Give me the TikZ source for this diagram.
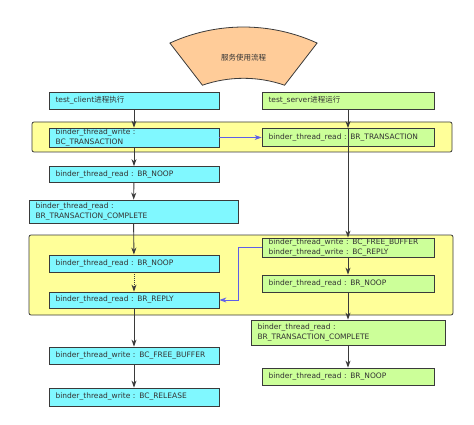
\documentclass[tikz,border=0pt]{standalone}
\usepackage{fontspec}
\setmainfont{DejaVu Sans}
\newfontfamily\cjk{Noto Sans CJK SC}
\usetikzlibrary{arrows.meta}
\definecolor{cyanf}{HTML}{80F8FF}
\definecolor{greenf}{HTML}{CCFF99}
\definecolor{yellowf}{HTML}{FFFF99}
\definecolor{peach}{HTML}{FFCC99}
\definecolor{bord}{HTML}{3A3A3A}
\definecolor{txt}{HTML}{333333}
\definecolor{bluel}{HTML}{5F5FE8}
\tikzset{
  bx/.style={draw=bord, line width=0.8pt, align=left, inner xsep=6.5pt, inner ysep=0pt,
    anchor=center, font=\fontsize{7.5}{9.5}\selectfont, text=txt},
  cbox/.style={bx, fill=cyanf},
  gbox/.style={bx, fill=greenf},
  ybox/.style={draw=bord, line width=0.8pt, fill=yellowf, rounded corners=2pt},
  arr/.style={draw=bord, line width=0.9pt, -{Stealth[length=7pt,width=5pt]}},
  barr/.style={draw=bluel, line width=0.9pt, -{Stealth[length=7pt,width=5pt]}},
}
\begin{document}
\begin{tikzpicture}[x=1pt,y=-1pt]
\useasboundingbox (0,0) rectangle (474,425);
% title shape
\draw[fill=peach, draw=bord, line width=0.8pt]
  ([shift={(243.5pt,-203.8pt)}]114.6:176.8pt) arc[start angle=114.6, end angle=65.4, radius=176.8pt]
  -- ([shift={(243.5pt,-203.8pt)}]70.9:125.5pt) arc[start angle=70.9, end angle=109.1, radius=125.5pt]
  -- cycle;
\node[font=\cjk\fontsize{7.5}{9}\selectfont, text=txt] (title) at (243.5,58) {服务使用流程};
% yellow groups
\node[ybox, minimum width=420pt, minimum height=30pt, inner sep=0pt] (y1) at (242,137) {};
\node[ybox, minimum width=424pt, minimum height=80pt, inner sep=0pt] (y2) at (241,275) {};
% left column
\node[cbox, text width=157pt, minimum height=17pt] (c1) at (134,100.5) {test\_client{\cjk 进程执行}};
\node[cbox, text width=157pt, minimum height=19pt] (c2) at (134,137.5) {binder\_thread\_write :\\BC\_TRANSACTION};
\node[cbox, text width=157pt, minimum height=16pt] (c3) at (134,174.5) {binder\_thread\_read : BR\_NOOP};
\node[cbox, text width=196pt, minimum height=23pt] (c4) at (133.5,211.5) {binder\_thread\_read :\\BR\_TRANSACTION\_COMPLETE};
\node[cbox, text width=157pt, minimum height=17pt] (c5) at (134,263.5) {binder\_thread\_read : BR\_NOOP};
\node[cbox, text width=157pt, minimum height=16pt] (c6) at (134,300) {binder\_thread\_read : BR\_REPLY};
\node[cbox, text width=157pt, minimum height=17pt] (c7) at (134,355.5) {binder\_thread\_write : BC\_FREE\_BUFFER};
\node[cbox, text width=157pt, minimum height=18pt] (c8) at (134,397) {binder\_thread\_write : BC\_RELEASE};
% right column
\node[gbox, text width=159pt, minimum height=17pt] (s1) at (348,100.5) {test\_server{\cjk 进程运行}};
\node[gbox, text width=159pt, minimum height=18pt] (s2) at (348,137.5) {binder\_thread\_read : BR\_TRANSACTION};
\node[gbox, text width=159pt, minimum height=19pt] (s3) at (348,247.5) {binder\_thread\_write : BC\_FREE\_BUFFER\\binder\_thread\_write : BC\_REPLY};
\node[gbox, text width=159pt, minimum height=17pt] (s4) at (348,283.5) {binder\_thread\_read : BR\_NOOP};
\node[gbox, text width=181pt, minimum height=25pt] (s5) at (348,332.5) {binder\_thread\_read :\\BR\_TRANSACTION\_COMPLETE};
\node[gbox, text width=159pt, minimum height=17pt] (s6) at (348,376.5) {binder\_thread\_read : BR\_NOOP};
% black arrows
\draw[arr] (c1) -- (c2);
\draw[arr] (c2) -- (c3);
\draw[arr] (c3) -- (c4);
\draw[arr] (c4) -- (c5);
\draw[arr, densely dotted] (c5) -- (c6);
\draw[arr] (c6) -- (c7);
\draw[arr] (c7) -- (c8);
\draw[arr] (s1) -- (s2);
\draw[arr] (s2.north) -- (s3.north);
\draw[arr] (s3) -- (s4);
\draw[arr] (s4) -- (s5);
\draw[arr] (s5) -- (s6);
% blue arrows
\draw[barr] (c2.east) -- (c2.east -| s2.west);
\draw[barr] (s3.west) -- ++(-23,0) |- (c6.east);
\end{tikzpicture}
\end{document}
